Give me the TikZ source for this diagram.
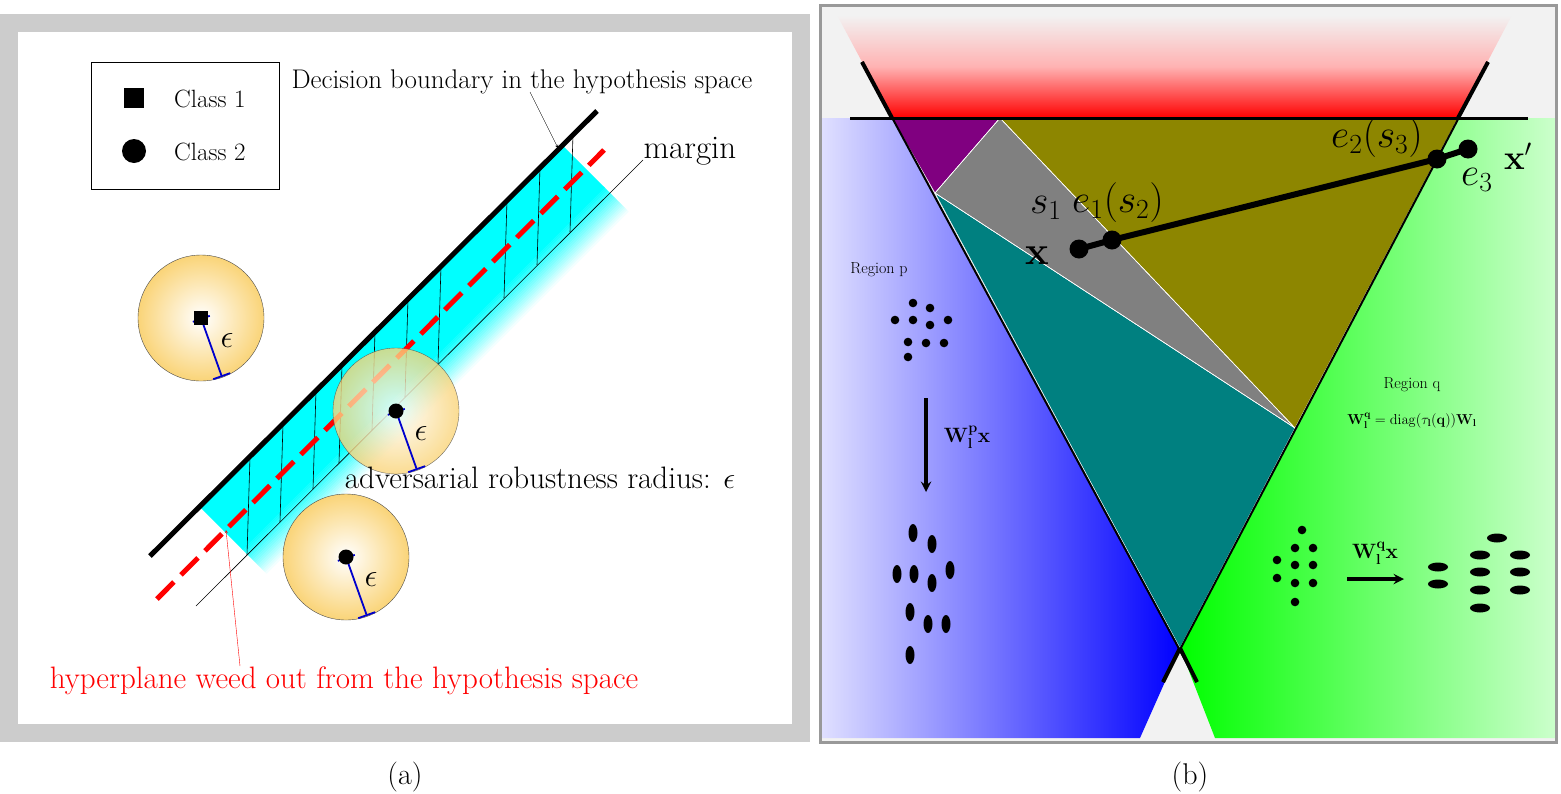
\documentclass[tikz,border=0pt]{standalone}
\usepackage{amsmath,bm}
\usetikzlibrary{calc,arrows.meta}
\definecolor{cy}{RGB}{0,255,255}
\definecolor{ballc}{RGB}{250,212,120}
\newcommand{\Lgm}[1]{\scalebox{1.6}{$#1$}}
\begin{document}
\begin{tikzpicture}[x=1pt,y=-1pt,
  tx/.style={inner sep=0pt,font=\fontsize{27}{29}\selectfont},
  ball/.style={draw=black!70,inner color=white,outer color=ballc,circle,minimum size=126pt,inner sep=0pt},
  rad/.style={blue!80!black,line width=1.8pt,{Bar[width=18pt]}-{Bar[width=18pt]}},
  big/.style={inner sep=0pt,font=\fontsize{25}{27}\selectfont},
  reg/.style={draw=white,line width=0.5pt}]
\useasboundingbox (0,0) rectangle (1561,793);
% ===== panel a =====
\fill[black!20] (0,14) rectangle (810,742);
\fill[white] (18,32) rectangle (792,724);
\node[draw,minimum width=188pt,minimum height=127pt,inner sep=0pt] (leg) at (185,125.5) {};
\node[fill=black,minimum size=20pt,inner sep=0pt] (sq) at (134,98) {};
\node[fill=black,circle,minimum size=24pt,inner sep=0pt] (ci) at (134,151) {};
\node[tx,anchor=west,font=\fontsize{25}{27}\selectfont] (c1) at (174,99) {Class 1};
\node[tx,anchor=west,font=\fontsize{25}{27}\selectfont] (c2) at (174,152) {Class 2};
% band
\fill[cy] ({(707+417)/2},{(707-417)/2}) -- ({(707-307)/2},{(707+307)/2}) -- ({(792-307)/2},{(792+307)/2}) -- ({(792+417)/2},{(792-417)/2}) -- cycle;
\foreach \i in {0,...,19}{
  \pgfmathsetmacro{\ca}{790+2.5*\i}
  \pgfmathsetmacro{\cb}{\ca+2.9}
  \pgfmathsetmacro{\pc}{100-5*\i}
  \fill[cy!\pc!white] ({(\ca+417)/2},{(\ca-417)/2}) -- ({(\ca-307)/2},{(\ca+307)/2}) -- ({(\cb-307)/2},{(\cb+307)/2}) -- ({(\cb+417)/2},{(\cb-417)/2}) -- cycle;
}
\foreach \t in {573,540,507,441,408,375,342,316,283,250}
  \draw[black,line width=0.6pt] (\t,707-\t) -- (\t-3,805-\t);
\draw[line width=0.6pt] (196,606) -- (643,160);
\draw[red,line width=5pt,dash pattern=on 24pt off 10pt] (157,599) -- (604,150);
\draw[line width=5pt] (150,556) -- (597,111);
% circles
\node[ball] (b1) at (201,318) {};
\node[ball,opacity=0.8] (b2) at (396,411) {};
\node[ball] (b3) at (346,557) {};
\foreach \b/\n in {b1/1,b2/2,b3/3}{
  \coordinate (r\n) at ($(\b)+(21,59)$);
}
\draw[rad] (b1.center) -- (r1);
\draw[rad] (b2.center) -- (r2);
\draw[rad] (b3.center) -- (r3);
\node[fill=black,minimum size=14pt,inner sep=0pt] (p1) at (201,318) {};
\node[fill=black,circle,minimum size=15pt,inner sep=0pt] (p2) at (396,411) {};
\node[fill=black,circle,minimum size=15pt,inner sep=0pt] (p3) at (346,557) {};
\node[tx] (e1) at (227,341) {\scalebox{1.3}{$\epsilon$}};
\node[tx] (e2) at (421,434) {\scalebox{1.3}{$\epsilon$}};
\node[tx] (e3) at (371,580) {\scalebox{1.3}{$\epsilon$}};
\node[tx] (db) at (522,82) {Decision boundary in the hypothesis space};
\coordinate (dbt) at (558,148);
\draw[->,>=stealth] (530,92) -- (dbt);
\node[tx,font=\fontsize{33}{35}\selectfont] (mg) at (690,151) {margin};
\node[tx,font=\fontsize{31}{33}\selectfont] (adv) at (540,478) {adversarial robustness radius: \scalebox{1.2}{$\epsilon$}};
\node[tx,red,font=\fontsize{31}{33}\selectfont] (hw) at (344,681) {hyperplane weed out from the hypothesis space};
\coordinate (hwt) at (226,530);
\draw[red,->,>=stealth] (240,666) -- (hwt);
\node[tx,font=\fontsize{30}{32}\selectfont] (la) at (405,777) {(a)};
% ===== panel b =====
\fill[black!5] (820,5) rectangle (1556,742);
\shade[top color=black!5,bottom color=red,middle color=red!30] (837,15) -- (1512,15) -- (1458,118) -- (892,118) -- cycle;
\shade[left color=blue!12,right color=blue] (820,118) -- (892,118) -- (1180,648) -- (1140,738) -- (820,738) -- cycle;
\shade[left color=green,right color=green!20] (1458,118) -- (1556,118) -- (1556,738) -- (1215,738) -- (1180,648) -- cycle;
\fill[reg,fill=teal] (935,193) -- (1295,428) -- (1180,648) -- cycle;
\fill[reg,fill={rgb,255:red,128;green,0;blue,128}] (892,118) -- (1000,118) -- (935,193) -- cycle;
\fill[reg,fill=gray] (1000,118) -- (935,193) -- (1295,428) -- cycle;
\fill[reg,fill=olive] (1000,118) -- (1458,118) -- (1295,428) -- cycle;
\draw[reg] (892,118) -- (1000,118) -- (935,193) -- (1295,428) -- (1000,118);
\draw[line width=2pt] (862,62) -- (1197,682);
\draw[line width=2pt] (1488,62) -- (1163,682);
\draw[line width=4pt] (862,62) -- (892,118);
\draw[line width=4pt] (1488,62) -- (1458,118);
\draw[line width=4pt] (1180,648) -- (1197,682);
\draw[line width=4pt] (1180,648) -- (1163,682);
\draw[line width=3pt] (850,118) -- (1528,118);
\draw[black!40,line width=3pt] (820,5) rectangle (1556,742);
% path
\node[fill=black,circle,minimum size=19pt,inner sep=0pt] (px) at (1079,249) {};
\node[fill=black,circle,minimum size=19pt,inner sep=0pt] (pe1) at (1112,240) {};
\node[fill=black,circle,minimum size=19pt,inner sep=0pt] (pe2) at (1437,159) {};
\node[fill=black,circle,minimum size=19pt,inner sep=0pt] (pxp) at (1468,149) {};
\draw[line width=6pt] (px.center) -- (pe1.center) -- (pe2.center) -- (pxp.center);
\node[big] (ls1) at (1046,208) {\Lgm{s_1}};
\node[big] (le1) at (1118,203) {\Lgm{e_1(s_2)}};
\node[big] (lx) at (1037,256) {\Lgm{\mathbf{x}}};
\node[big] (le2) at (1377,138) {\Lgm{e_2(s_3)}};
\node[big] (le3) at (1477,180) {\Lgm{e_3}};
\node[big] (lxp) at (1518,156) {\scalebox{1.4}{$\mathbf{x}'$}};
% region p
\node[tx,font=\fontsize{16}{18}\selectfont] (rp) at (879,270) {Region p};
\foreach \x/\y in {913/303,930/308,895/320,913/320,930/325,948/320,908/342,926/343,944/343,908/357}
  \fill (\x,\y) circle (4.3pt);
\coordinate (ap1) at (926,398);
\coordinate (ap2) at (926,492);
\draw[line width=3.5pt,-stealth] (ap1) -- (ap2);
\node[tx,font=\fontsize{21}{23}\selectfont] (wp) at (967,437) {$\mathbf{W}_{\mathbf{l}}^{\mathbf{p}}\mathbf{x}$};
\foreach \x/\y in {913/533,932/544,897/574,914/574,932/583,950/570,910/612,928/624,946/624,910/655}
  \fill (\x,\y) ellipse (4.5pt and 9pt);
% region q
\node[tx,font=\fontsize{16}{18}\selectfont] (rq) at (1412,385) {Region q};
\node[tx,font=\fontsize{14}{16}\selectfont] (fq) at (1412,421) {$\mathbf{W}_{\mathbf{l}}^{\mathbf{q}}=\mathrm{diag}(\tau_{\mathbf{l}}(\mathbf{q}))\mathbf{W}_{\mathbf{l}}$};
\foreach \x/\y in {1302/530,1295/548,1313/548,1277/560,1295/565,1313/565,1277/578,1295/583,1313/583,1295/602}
  \fill (\x,\y) circle (4.3pt);
\coordinate (aq1) at (1347,579);
\coordinate (aq2) at (1404,579);
\draw[line width=3.5pt,-stealth] (aq1) -- (aq2);
\node[tx,font=\fontsize{21}{23}\selectfont] (wq) at (1375,553) {$\mathbf{W}_{\mathbf{l}}^{\mathbf{q}}\mathbf{x}$};
\foreach \x/\y in {1497/538,1480/555,1520/555,1438/567,1480/572,1520/572,1438/584,1480/590,1520/590,1480/608}
  \fill (\x,\y) ellipse (10pt and 4.5pt);
\node[tx,font=\fontsize{30}{32}\selectfont] (lb) at (1190,777) {(b)};
\end{tikzpicture}
\end{document}
